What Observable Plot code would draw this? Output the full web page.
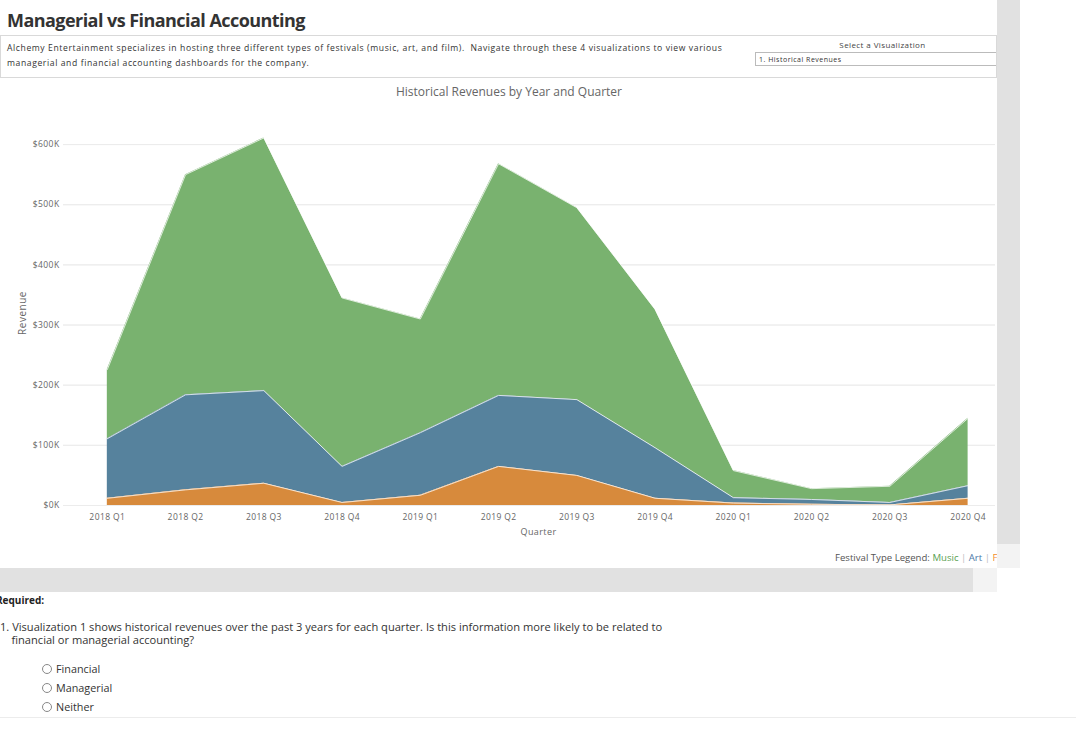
<!DOCTYPE html>
<html>
<head>
<meta charset="utf-8">
<script src="https://cdn.jsdelivr.net/npm/d3@7"></script>
<script src="https://cdn.jsdelivr.net/npm/@observablehq/plot@0.6"></script>
<style>
  html, body { margin: 0; padding: 0; background: #fff; width: 1076px; height: 730px; overflow: hidden; position: relative; font-family: "Open Sans", Lato, sans-serif; }
  .abs { position: absolute; white-space: nowrap; }
  #title { left: 7px; top: 8px; font-size: 18px; font-weight: bold; color: #333; letter-spacing: -0.55px; }
  #descbox { left: 0; top: 35px; width: 995px; height: 41px; border: 1px solid #d9d9d9; }
  #desc { left: 7px; top: 41px; font-size: 8.6px; color: #333; line-height: 15px; white-space: normal; width: 735px; letter-spacing: 0.6px; }
  #selLabel { left: 800px; top: 39px; width: 165px; text-align: center; font-size: 8px; color: #444; letter-spacing: 0.4px; }
  #selBox { left: 755px; top: 52px; width: 241px; height: 14px; border: 1px solid #bbb; border-right: none; font-size: 7px; color: #333; line-height: 13px; padding-left: 3px; box-sizing: border-box; letter-spacing: 0.5px; }
  #chartTitle { left: 0; top: 83px; width: 1018px; text-align: center; font-size: 12px; color: #666; }
  #vbar { left: 997px; top: 0; width: 23px; height: 544px; background: #e1e1e1; }
  #vbar2 { left: 997px; top: 544px; width: 23px; height: 24px; background: #f3f3f3; }
  #hbar { left: 0; top: 568px; width: 973px; height: 24px; background: #e1e1e1; }
  #hbar2 { left: 973px; top: 568px; width: 24px; height: 24px; background: #f3f3f3; }
  #legendWrap { left: 700px; top: 550px; width: 297px; height: 16px; overflow: hidden; }
  #legendInner { position: absolute; left: 135px; top: 1px; font-size: 9.6px; color: #555; white-space: nowrap; }
  #req { left: -4px; top: 593px; font-size: 10px; font-weight: bold; color: #222; }
  #q { left: 0; top: 620px; font-size: 11.1px; color: #333; line-height: 13px; }
  .opt { left: 42px; font-size: 10.8px; color: #333; }
  .radio { display: inline-block; width: 8px; height: 8px; border: 1px solid #888; border-radius: 50%; vertical-align: -1px; margin-right: 4px; }
  #bottomLine { left: 0; top: 717px; width: 1076px; height: 1px; background: #ececec; }
  #plot { left: 0; top: 100px; }
  #plot svg text { letter-spacing: 0.4px; }
  #plot svg g[aria-label="y-axis label"] text { font-size: 10px; letter-spacing: 0.5px; }
</style>
</head>
<body>
<div class="abs" id="vbar"></div>
<div class="abs" id="vbar2"></div>
<div class="abs" id="hbar"></div>
<div class="abs" id="hbar2"></div>
<div class="abs" id="title">Managerial vs Financial Accounting</div>
<div class="abs" id="descbox"></div>
<div class="abs" id="desc">Alchemy Entertainment specializes in hosting three different types of festivals (music, art, and film).&nbsp; Navigate through these 4 visualizations to view various managerial and financial accounting dashboards for the company.</div>
<div class="abs" id="selLabel">Select a Visualization</div>
<div class="abs" id="selBox">1. Historical Revenues</div>
<div class="abs" id="chartTitle">Historical Revenues by Year and Quarter</div>
<div class="abs" id="plot"></div>
<div class="abs" id="legendWrap"><div id="legendInner">Festival Type Legend: <span style="color:#5b9f53">Music</span> <span style="color:#bbb">|</span> <span style="color:#4e79a7">Art</span> <span style="color:#bbb">|</span> <span style="color:#f28e2b">Film</span></div></div>
<div class="abs" id="req">Required:</div>
<div class="abs" id="q">1. Visualization 1 shows historical revenues over the past 3 years for each quarter. Is this information more likely to be related to<br>&nbsp;&nbsp;&nbsp;&nbsp;financial or managerial accounting?</div>
<div class="abs opt" style="top:661px"><span class="radio"></span>Financial</div>
<div class="abs opt" style="top:680px"><span class="radio"></span>Managerial</div>
<div class="abs opt" style="top:699px"><span class="radio"></span>Neither</div>
<div class="abs" id="bottomLine"></div>
<script>
const quarters = ["2018 Q1","2018 Q2","2018 Q3","2018 Q4","2019 Q1","2019 Q2","2019 Q3","2019 Q4","2020 Q1","2020 Q2","2020 Q3","2020 Q4"];
// revenue in $K
const music = [115, 366, 420, 280, 189, 385, 319, 230, 45, 18, 27, 112];
const art   = [ 99, 158, 154,  60, 104, 118, 126,  84,  9,  8,  4,  21];
const film  = [ 12,  26,  37,   5,  17,  65,  50,  12,  4,  2,  1,  12];
const types = ["Music", "Art", "Film"];
const typeColors = ["#79b26f", "#56829d", "#d78a3c"];
const yTicks = [0, 100000, 200000, 300000, 400000, 500000, 600000];
const xTitle = "Quarter";

const series = {Music: music, Art: art, Film: film};
const data = [];
for (const t of types) {
  quarters.forEach((q, i) => data.push({i, quarter: q, type: t, revenue: series[t][i] * 1000}));
}
const order = ["Film", "Art", "Music"];

const chart = Plot.plot({
  width: 997,
  height: 445,
  marginLeft: 63,
  marginRight: 2,
  marginTop: 20,
  marginBottom: 40,
  style: {fontFamily: "'Open Sans', Lato, sans-serif", fontSize: "8.5px", color: "#666", background: "transparent"},
  x: {
    type: "linear",
    domain: [-0.56, 11.35],
    ticks: d3.range(quarters.length),
    tickFormat: i => quarters[i],
    tickSize: 0,
    tickPadding: 8,
    label: null
  },
  y: {
    domain: [0, 640000],
    ticks: yTicks,
    tickFormat: d => "$" + d / 1000 + "K",
    tickSize: 0,
    tickPadding: 4,
    grid: true,
    label: "Revenue",
    labelAnchor: "center",
    labelArrow: "none",
    labelOffset: 45
  },
  color: {domain: types, range: typeColors},
  marks: [
    Plot.gridY(yTicks, {stroke: "#ececec", strokeOpacity: 1}),
    Plot.areaY(data, {x: "i", y: "revenue", fill: "type", order, curve: "linear"}),
    Plot.lineY(data, Plot.stackY2({x: "i", y: "revenue", z: "type", order, stroke: "#ffffff", strokeOpacity: 0.75, strokeWidth: 1})),
    Plot.text([xTitle], {frameAnchor: "bottom", dx: 9, dy: 29, fontSize: 9, fill: "#666"})
  ]
});
document.getElementById("plot").appendChild(chart);
</script>
</body>
</html>
